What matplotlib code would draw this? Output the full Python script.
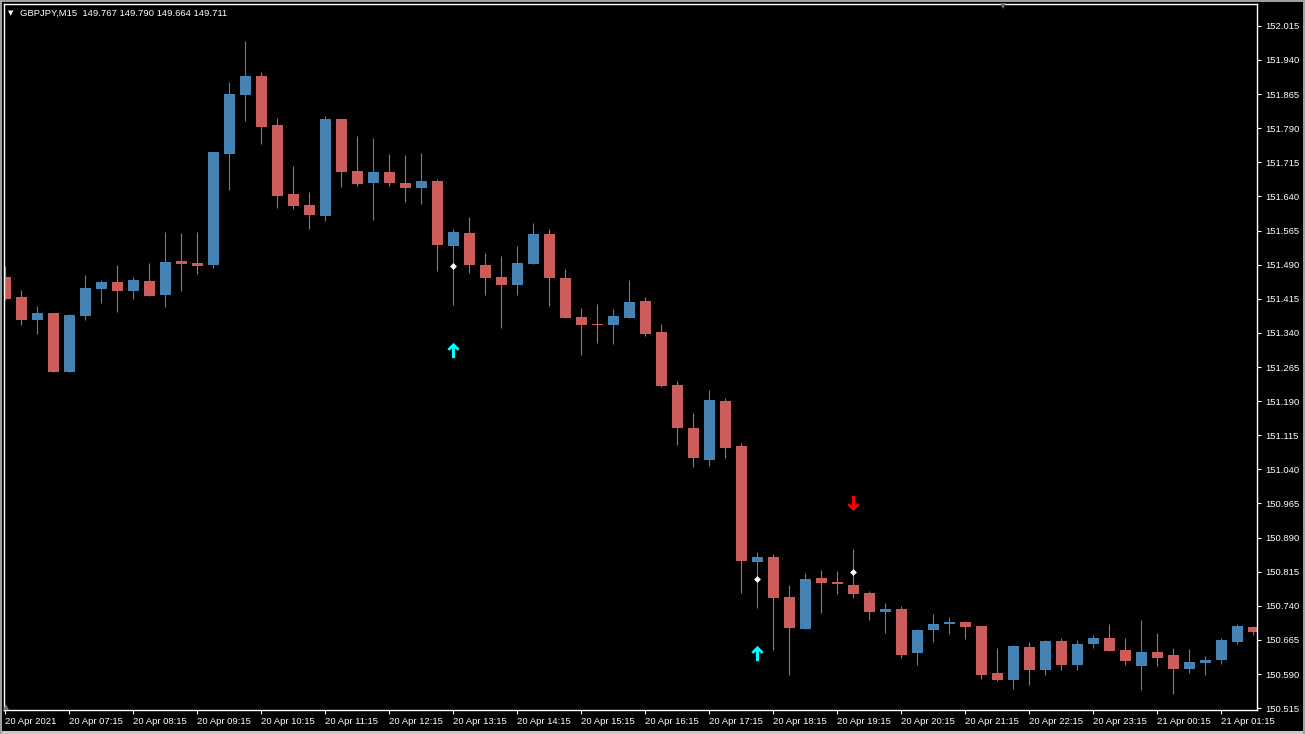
import matplotlib
matplotlib.use("Agg")
import matplotlib.pyplot as plt
from matplotlib.path import Path
from matplotlib.patches import Rectangle

# GBPJPY M15 bars, 20 Apr 06:15 -> 21 Apr 01:45
opens = [151.463, 151.419, 151.369, 151.384, 151.255, 151.378, 151.437, 151.452, 151.431, 151.454,
         151.424, 151.498, 151.494, 151.490, 151.734, 151.863, 151.904, 151.797, 151.645, 151.621,
         151.598, 151.810, 151.696, 151.670, 151.694, 151.669, 151.659, 151.674, 151.532, 151.560,
         151.489, 151.463, 151.446, 151.492, 151.557, 151.461, 151.375, 151.360, 151.358, 151.373,
         151.410, 151.342, 151.226, 151.131, 151.061, 151.190, 151.091, 150.837, 150.848, 150.760,
         150.690, 150.801, 150.793, 150.786, 150.768, 150.727, 150.733, 150.637, 150.686, 150.701,
         150.705, 150.696, 150.593, 150.576, 150.650, 150.598, 150.663, 150.609, 150.655, 150.670,
         150.643, 150.607, 150.639, 150.632, 150.602, 150.615, 150.620, 150.661, 150.694]
highs = [151.487, 151.434, 151.399, 151.384, 151.382, 151.467, 151.456, 151.489, 151.463, 151.494,
         151.562, 151.560, 151.562, 151.737, 151.891, 151.981, 151.913, 151.812, 151.707, 151.650,
         151.817, 151.810, 151.773, 151.768, 151.733, 151.731, 151.735, 151.678, 151.568, 151.595,
         151.516, 151.509, 151.531, 151.581, 151.568, 151.480, 151.395, 151.403, 151.393, 151.456,
         151.419, 151.360, 151.234, 151.164, 151.215, 151.197, 151.098, 150.859, 150.854, 150.786,
         150.812, 150.819, 150.817, 150.865, 150.773, 150.746, 150.740, 150.689, 150.722, 150.716,
         150.707, 150.696, 150.648, 150.654, 150.661, 150.665, 150.670, 150.665, 150.676, 150.700,
         150.670, 150.709, 150.681, 150.648, 150.645, 150.630, 150.670, 150.700, 150.696]
lows = [151.413, 151.358, 151.338, 151.253, 151.253, 151.369, 151.406, 151.387, 151.415, 151.420,
        151.398, 151.433, 151.470, 151.483, 151.655, 151.806, 151.756, 151.615, 151.613, 151.569,
        151.587, 151.661, 151.663, 151.589, 151.663, 151.628, 151.624, 151.477, 151.402, 151.472,
        151.424, 151.351, 151.424, 151.492, 151.400, 151.373, 151.292, 151.318, 151.316, 151.373,
        151.334, 151.220, 151.094, 151.046, 151.048, 151.066, 150.769, 150.736, 150.642, 150.587,
        150.690, 150.725, 150.765, 150.758, 150.708, 150.681, 150.626, 150.609, 150.661, 150.677,
        150.668, 150.580, 150.574, 150.558, 150.565, 150.589, 150.600, 150.598, 150.648, 150.640,
        150.609, 150.556, 150.607, 150.547, 150.593, 150.589, 150.613, 150.655, 150.675]
closes = [151.415, 151.369, 151.384, 151.255, 151.379, 151.439, 151.452, 151.431, 151.456, 151.422,
          151.496, 151.492, 151.488, 151.737, 151.865, 151.904, 151.793, 151.641, 151.619, 151.600,
          151.810, 151.694, 151.668, 151.694, 151.670, 151.659, 151.674, 151.534, 151.562, 151.490,
          151.461, 151.446, 151.494, 151.557, 151.461, 151.373, 151.358, 151.358, 151.377, 151.408,
          151.338, 151.224, 151.132, 151.064, 151.193, 151.088, 150.839, 150.848, 150.758, 150.692,
          150.799, 150.791, 150.787, 150.767, 150.727, 150.733, 150.631, 150.687, 150.700, 150.705,
          150.694, 150.589, 150.576, 150.652, 150.598, 150.663, 150.609, 150.656, 150.670, 150.641,
          150.618, 150.639, 150.626, 150.602, 150.617, 150.621, 150.665, 150.696, 150.683]

# indicator signals (bar index, price)
up_idx = [28, 47]
up_price = [151.302, 150.637]
down_idx = [53]
down_price = [150.966]
dot_idx = [28, 47, 53]
dot_price = [151.486, 150.799, 150.814]

# axis labels
y_ticks = [150.515, 150.590, 150.665, 150.740, 150.815, 150.890, 150.965, 151.040, 151.115,
           151.190, 151.265, 151.340, 151.415, 151.490, 151.565, 151.640, 151.715, 151.790,
           151.865, 151.940, 152.015]
x_tick_idx = list(range(0, 77, 4))
x_tick_labels = ["20 Apr 2021", "20 Apr 07:15", "20 Apr 08:15", "20 Apr 09:15", "20 Apr 10:15",
                 "20 Apr 11:15", "20 Apr 12:15", "20 Apr 13:15", "20 Apr 14:15", "20 Apr 15:15",
                 "20 Apr 16:15", "20 Apr 17:15", "20 Apr 18:15", "20 Apr 19:15", "20 Apr 20:15",
                 "20 Apr 21:15", "20 Apr 22:15", "20 Apr 23:15", "21 Apr 00:15", "21 Apr 01:15"]
header = "GBPJPY,M15  149.767 149.790 149.664 149.711"

bull_color = "#4682B4"
bear_color = "#CD5C5C"

plt.rcParams['font.family'] = ['Liberation Sans', 'DejaVu Sans']

W, H = 1305, 734
fig = plt.figure(figsize=(W / 100, H / 100), dpi=100, facecolor="black")

# window frame (grey border around the chart window)
frame_col = "#a0a0a0"
fig.add_artist(Rectangle((0, 0), 1, 3 / H, transform=fig.transFigure, color="#c8c8c8", lw=0))
fig.add_artist(Rectangle((0, 1 - 2 / H), 1, 2 / H, transform=fig.transFigure, color=frame_col, lw=0))
fig.add_artist(Rectangle((0, 0), 2 / W, 1, transform=fig.transFigure, color=frame_col, lw=0))
fig.add_artist(Rectangle((1 - 2 / W, 0), 2 / W, 1, transform=fig.transFigure, color=frame_col, lw=0))

ax = fig.add_axes([4 / W, (H - 710) / H, (1257 - 4) / W, (710 - 4) / H], facecolor="black")

# candles
for i in range(len(opens)):
    o, h, l, c = opens[i], highs[i], lows[i], closes[i]
    col = bull_color if c > o else bear_color
    ax.vlines(i, l, h, color=col, linewidth=0.8)
    body = max(abs(c - o), 0.002)
    ax.bar(i, body, bottom=min(o, c), width=0.69, color=col, linewidth=0)

# arrow markers (chevron head + stem)
up_arrow = Path([(0, 1), (0.8, 0.2), (0.55, -0.05), (0.2, 0.3), (0.2, -1), (-0.2, -1),
                 (-0.2, 0.3), (-0.55, -0.05), (-0.8, 0.2), (0, 1)],
                [Path.MOVETO] + [Path.LINETO] * 8 + [Path.CLOSEPOLY])
down_arrow = Path([(x, -y) for x, y in up_arrow.vertices], up_arrow.codes)
ax.plot(up_idx, up_price, linestyle="none", marker=up_arrow, markersize=11,
        color="#00FFFF", markeredgewidth=0)
ax.plot(down_idx, down_price, linestyle="none", marker=down_arrow, markersize=11,
        color="#FF0000", markeredgewidth=0)
ax.plot(dot_idx, dot_price, linestyle="none", marker="D", markersize=3.5,
        color="white", markeredgewidth=0)

ax.set_xlim((4 - 5.3) / 16, (1257 - 5.3) / 16)
ax.set_ylim(150.511, 152.063)

# axes styling
for s in ax.spines.values():
    s.set_color("white")
    s.set_linewidth(1)
ax.yaxis.tick_right()
ax.set_yticks(y_ticks)
ax.set_yticklabels(["%.3f" % v for v in y_ticks])
ax.set_xticks(x_tick_idx)
ax.set_xticklabels(x_tick_labels, ha="left")
ax.tick_params(axis="both", colors="white", labelsize=6.8, direction="out", length=3, width=0.8)
ax.tick_params(axis="x", pad=2)
ax.tick_params(axis="y", pad=3)

# header text
fig.text(8 / W, 1 - 13 / H, "\u25BC", color="white", fontsize=5, va="center", ha="left",
         family="DejaVu Sans")
fig.text(20 / W, 1 - 13 / H, header, color="white", fontsize=6.8, va="center", ha="left")

# chart shift markers
fig.add_artist(plt.Line2D([1003 / W], [1 - 6 / H], marker="v", markersize=5, color="#707070",
                          markeredgewidth=0, transform=fig.transFigure))
fig.add_artist(plt.Line2D([6 / W], [1 - 707 / H], marker="^", markersize=4, color="#707070",
                          markeredgewidth=0, transform=fig.transFigure))

fig.savefig("out.png", dpi=100, facecolor="black")
